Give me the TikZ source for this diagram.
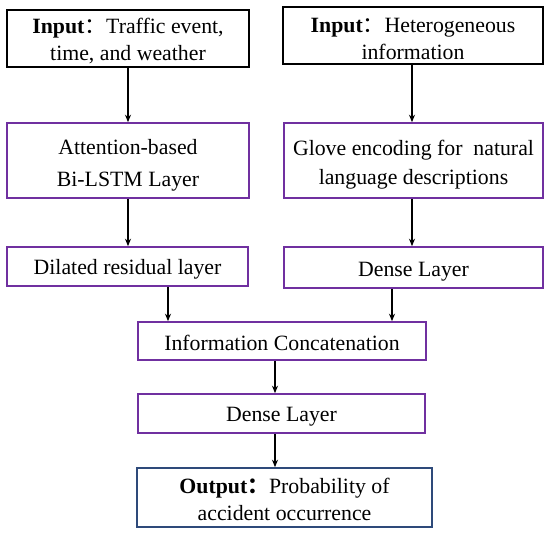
\documentclass[tikz,border=0pt]{standalone}
\usepackage{fontspec}
\setmainfont{Liberation Serif}
\newfontfamily\cjk{Noto Sans CJK SC}
\usetikzlibrary{arrows.meta}
\definecolor{boxpurple}{HTML}{7030A0}
\definecolor{boxblue}{HTML}{2E4A7A}
\tikzset{
  base/.style={draw, line width=1.6pt, inner sep=0pt},
  inbox/.style={base, draw=black},
  layerbox/.style={base, draw=boxpurple},
  outbox/.style={base, draw=boxblue},
  txt/.style={align=center, inner sep=0pt, font=\fontsize{21.8}{#1}\selectfont},
  txt/.default=27,
  arr/.style={line width=1.4pt, -{Stealth[length=7.5pt,width=6pt]}}
}
\newcommand{\fwc}{{\cjk ：}}
\begin{document}
\begin{tikzpicture}[x=1pt,y=-1pt]
\useasboundingbox[fill=white] (0,0) rectangle (550,535);
\node[inbox, minimum width=242pt, minimum height=57pt,
  label={[txt=27, yshift=-2.5pt]center:{\textbf{Input}\fwc Traffic event,\\time, and weather}}] (b1) at (128,38.5) {};
\node[inbox, minimum width=260pt, minimum height=57pt,
  label={[txt=27, yshift=-3pt]center:{\textbf{Input}\fwc Heterogeneous\\information}}] (b2) at (413,35.5) {};
\node[layerbox, minimum width=242pt, minimum height=75pt,
  label={[txt=32, yshift=-5pt]center:{Attention-based\\Bi-LSTM Layer}}] (b3) at (128,160.5) {};
\node[layerbox, minimum width=259pt, minimum height=75pt,
  label={[txt=29, yshift=-4pt]center:{Glove encoding for\ \ natural\\language descriptions}}] (b4) at (413.5,160.5) {};
\node[layerbox, minimum width=241pt, minimum height=39pt,
  label={[txt, yshift=-3pt]center:{Dilated residual layer}}] (b5) at (127.5,266.5) {};
\node[layerbox, minimum width=259pt, minimum height=41pt,
  label={[txt, yshift=-4pt]center:{Dense Layer}}] (b6) at (413.5,267.5) {};
\node[layerbox, minimum width=288pt, minimum height=38pt,
  label={[txt, yshift=-2pt]center:{Information Concatenation}}] (b7) at (282,341) {};
\node[layerbox, minimum width=287pt, minimum height=39pt,
  label={[txt, yshift=-3.5pt]center:{Dense Layer}}] (b8) at (281.5,413.5) {};
\node[outbox, minimum width=295pt, minimum height=59pt,
  label={[txt=27, yshift=-2pt]center:{\textbf{Output}{\cjk\bfseries ：}Probability of\\accident occurrence}}] (b9) at (284.5,497.5) {};
\coordinate (xl) at (128,0);
\coordinate (xr) at (412,0);
\coordinate (xa) at (168,0);
\coordinate (xb) at (392,0);
\coordinate (xc) at (275,0);
\draw[arr] (b1.south -| xl) -- (b3.north -| xl);
\draw[arr] (b2.south -| xr) -- (b4.north -| xr);
\draw[arr] (b3.south -| xl) -- (b5.north -| xl);
\draw[arr] (b4.south -| xr) -- (b6.north -| xr);
\draw[arr] (b5.south -| xa) -- (b7.north -| xa);
\draw[arr] (b6.south -| xb) -- (b7.north -| xb);
\draw[arr] (b7.south -| xc) -- (b8.north -| xc);
\draw[arr] (b8.south -| xc) -- (b9.north -| xc);
\end{tikzpicture}
\end{document}
